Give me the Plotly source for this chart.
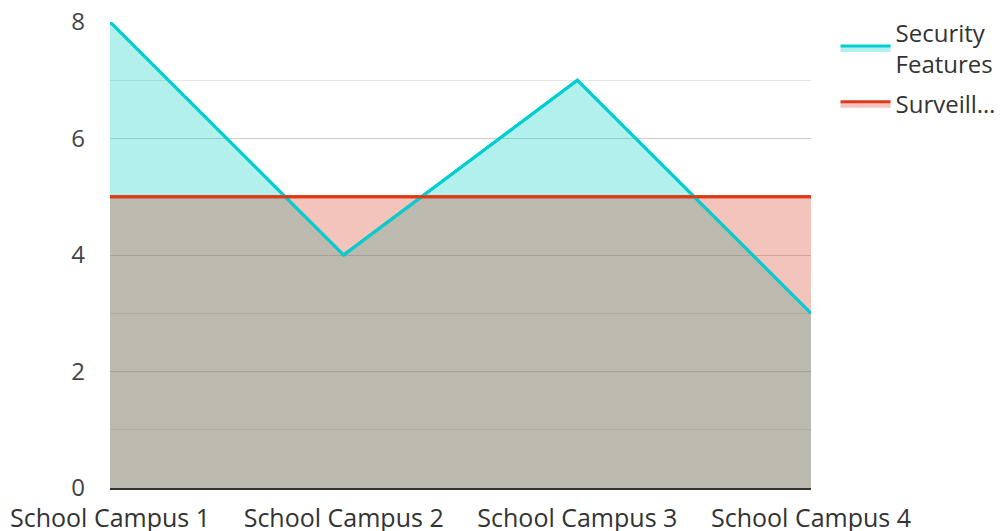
import plotly.graph_objects as go

campuses = ["School Campus 1", "School Campus 2", "School Campus 3", "School Campus 4"]
security_features = [8, 4, 7, 3]
surveillance = [5, 5, 5, 5]
y_ticks = [0, 2, 4, 6, 8]

cyan_line = "rgb(0,206,209)"
red_line = "rgb(222,58,24)"

fig = go.Figure()
# filled areas (with legend entries)
fig.add_trace(go.Scatter(
    x=campuses, y=security_features, name="Security<br>Features",
    mode="lines", line=dict(color=cyan_line, width=3),
    fill="tozeroy", fillcolor="rgba(0,204,196,0.3)",
    legendgroup="a",
))
fig.add_trace(go.Scatter(
    x=campuses, y=surveillance, name="Surveill…",
    mode="lines", line=dict(color=red_line, width=3),
    fill="tozeroy", fillcolor="rgba(212,60,30,0.3)",
    legendgroup="b",
))
# lines drawn on top of all fills
fig.add_trace(go.Scatter(
    x=campuses, y=security_features, mode="lines", showlegend=False,
    line=dict(color=cyan_line, width=3), hoverinfo="skip", legendgroup="a",
))
fig.add_trace(go.Scatter(
    x=campuses, y=surveillance, mode="lines", showlegend=False,
    line=dict(color=red_line, width=3), hoverinfo="skip", legendgroup="b",
))

fig.update_layout(
    width=1002, height=531,
    margin=dict(l=110, r=191, t=22, b=43, autoexpand=False),
    paper_bgcolor="white", plot_bgcolor="white",
    font=dict(family="Open Sans, Noto Sans, sans-serif", size=24, color="#444"),
    legend=dict(x=1.035, y=1.025, xanchor="left", yanchor="top",
                font=dict(size=24, color="#333"), itemwidth=50,
                traceorder="grouped", tracegroupgap=6),
    showlegend=True,
)
fig.update_xaxes(
    range=[0, 3], showgrid=False, showline=True, linecolor="#333", linewidth=2,
    zeroline=False, ticks="", tickfont=dict(size=25, color="#333"),
    automargin=False, ticklabelstandoff=7,
)
fig.update_yaxes(
    range=[0, 8], tickvals=y_ticks, showgrid=True, gridcolor="#cfcfcf", gridwidth=1,
    zeroline=False, ticks="", ticklabelstandoff=24, tickfont=dict(size=24, color="#444"),
    minor=dict(dtick=1, showgrid=True, gridcolor="#e6e6e6", gridwidth=1),
    automargin=False,
)

fig.write_html("out.html", config={"displayModeBar": False},
               post_script="document.body.style.margin='0';")
